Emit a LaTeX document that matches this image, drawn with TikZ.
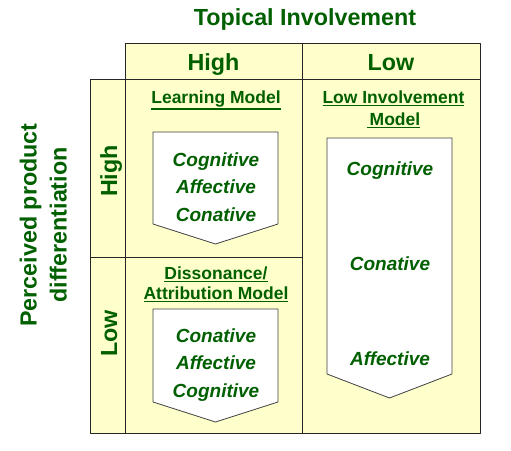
\documentclass[tikz,border=0pt]{standalone}
\usepackage{fontspec}
\setmainfont{Liberation Sans}
\definecolor{cellyellow}{HTML}{FFFFCC}
\definecolor{txtgreen}{RGB}{0,96,0}
% underlined model title
\newcommand{\undl}[1]{\vtop{\hbox{#1}\kern1.4pt\hrule height 1.6pt}}
\begin{document}
\begin{tikzpicture}[x=1pt,y=-1pt,line join=round,line cap=round,
	cellbox/.style={fill=cellyellow, draw=black!85, line width=1pt},
	arrowbox/.style={fill=white, draw=black!75, line width=.8pt},
	hd/.style={text=txtgreen, font=\fontsize{23.3}{28}\selectfont\bfseries, inner sep=0pt},
	mdl/.style={text=txtgreen, font=\fontsize{17.5}{20}\selectfont\bfseries, inner sep=0pt, align=center},
	stage/.style={text=txtgreen, font=\fontsize{19}{24}\selectfont\bfseries\itshape, inner sep=0pt, anchor=base}]

	\useasboundingbox (0,0) rectangle (511,450);

	% Grid corners
	\coordinate (A) at (125,43);  % header top left
	\coordinate (B) at (302,43);  % header middle
	\coordinate (C) at (480,79);  % header bottom right
	\coordinate (D) at (90,79);   % row labels top left
	\coordinate (E) at (302,257); % middle of the grid
	\coordinate (F) at (480,433); % bottom right

	% Header and row label cells
	\draw[cellbox] (A) rectangle (302,79);
	\draw[cellbox] (B) rectangle (C);
	\draw[cellbox] (D) rectangle (125,257);
	\draw[cellbox] (90,257) rectangle (125,433);

	% Model cells
	\draw[cellbox] (125,79) rectangle (E);
	\draw[cellbox] (125,257) rectangle (302,433);
	\draw[cellbox] (302,79) rectangle (F);

	% Axis titles
	\node[hd, anchor=base] (topical) at (305,25) {Topical Involvement};
	\node[hd, anchor=base, rotate=90] (perceived) at (36.5,225) {Perceived product};
	\node[hd, anchor=base, rotate=90] (differ) at (66.5,225) {differentiation};

	% Header labels
	\node[hd, anchor=base] (colHigh) at (213.5,70) {High};
	\node[hd, anchor=base] (colLow) at (391,70) {Low};
	\node[hd, anchor=base, rotate=90] (rowHigh) at (117,171) {High};
	\node[hd, anchor=base, rotate=90] (rowLow) at (117,333.5) {Low};

	% Model titles (base = last line)
	\node[mdl, anchor=base] (learnTitle) at (216,103) {\undl{Learning Model}};
	\node[mdl, anchor=base] (lowTitle) at (393.5,125) {\undl{Low Involvement}\\[2pt] \undl{\,Model}};
	\node[mdl, anchor=base] (disTitle) at (216,299) {\undl{Dissonance/}\\ \undl{Attribution Model}};

	% Hierarchy arrows
	\draw[arrowbox] (153,132) -- (278,132) -- (278,224) -- (215.5,244) -- (153,224) -- cycle;
	\draw[arrowbox] (153,309) -- (278,309) -- (278,402) -- (215.5,422) -- (153,402) -- cycle;
	\draw[arrowbox] (327,138) -- (452,138) -- (452,374) -- (389.5,398) -- (327,374) -- cycle;

	% Stages: learning model
	\node[stage] (lmCog) at (216,166) {Cognitive};
	\node[stage] (lmAff) at (216,193) {Affective};
	\node[stage] (lmCon) at (216,221) {Conative};

	% Stages: dissonance model
	\node[stage] (dmCon) at (216,342) {Conative};
	\node[stage] (dmAff) at (216,369) {Affective};
	\node[stage] (dmCog) at (216,397) {Cognitive};

	% Stages: low involvement model
	\node[stage] (liCog) at (390,175) {Cognitive};
	\node[stage] (liCon) at (390,270) {Conative};
	\node[stage] (liAff) at (390,365) {Affective};

\end{tikzpicture}
\end{document}
